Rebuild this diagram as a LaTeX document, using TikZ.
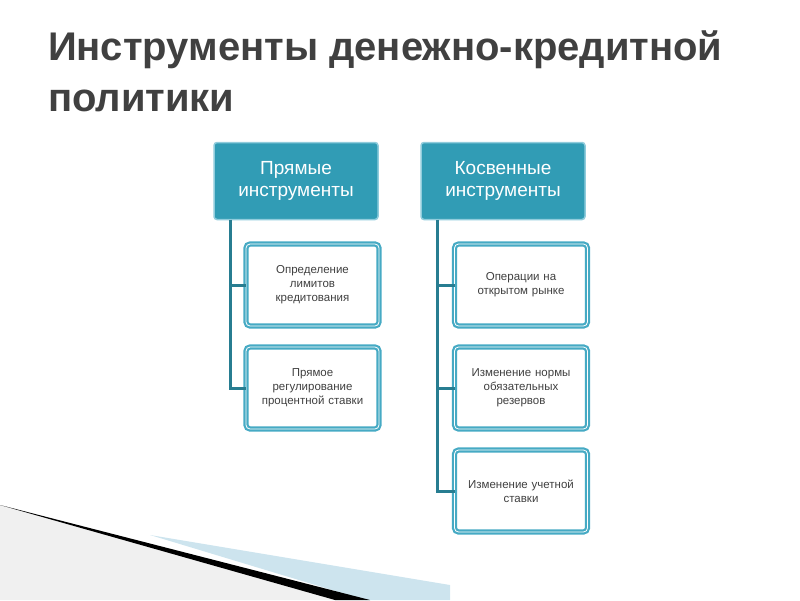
\documentclass[tikz,border=0pt]{standalone}
\usepackage{fontspec}
\setmainfont{Liberation Sans}
\usetikzlibrary{positioning}
\definecolor{headteal}{RGB}{49,156,181}
\definecolor{edgeteal}{RGB}{70,170,196}
\definecolor{titlegray}{RGB}{64,64,64}
\definecolor{wedgeblue}{RGB}{205,228,238}
\tikzset{
    headbox/.style={draw=edgeteal!60, line width=1.5pt, fill=headteal, rounded corners=3pt,
        minimum width=164pt, minimum height=77pt, text width=150pt, align=center,
        text=white, font=\fontsize{19}{22}\selectfont},
    itembox/.style={draw=edgeteal, line width=2.2pt, fill=white, rounded corners=4pt,
        double=white, double distance=0.8pt,
        minimum width=133pt, minimum height=82pt, text width=122pt, align=center,
        text=titlegray, font=\fontsize{11.5}{14}\selectfont},
    stem/.style={draw=headteal!80!black, line width=3pt}
}
\begin{document}
\begin{tikzpicture}[x=1pt,y=-1pt, inner sep=0pt, outer sep=0pt]
    \useasboundingbox (0,0) rectangle (800,600);
    % bottom decoration
    \fill[gray!12] (0,505) -- (360,600) -- (0,600) -- cycle;
    \fill[wedgeblue] (150,535) -- (450,585) -- (450,600) -- (365,600) -- cycle;
    \fill[black] (0,505) -- (370,600) -- (335,600) -- cycle;
    % title
    \node[anchor=north west, text=titlegray, align=left,
        font=\fontsize{40}{51}\selectfont\bfseries] (title) at (48,31)
        {Инструменты денежно-кредитной\\политики};
    % headers
    \node[headbox] (direct) at (296,181) {Прямые\\инструменты};
    \node[headbox] (indirect) at (503,181) {Косвенные\\инструменты};
    % direct branch
    \node[itembox] (limits) at (312.5,285) {Определение\\лимитов\\кредитования};
    \node[itembox, below=21pt of limits] (rate) {Прямое\\регулирование\\процентной ставки};
    % indirect branch
    \node[itembox] (market) at (521,285) {Операции на\\открытом рынке};
    \node[itembox, below=21pt of market] (reserve) {Изменение нормы\\обязательных\\резервов};
    \node[itembox, below=21pt of reserve] (discount) {Изменение учетной\\ставки};
    % connectors
    \coordinate (dstem) at ([xshift=-66pt]direct.south);
    \coordinate (istem) at ([xshift=-66pt]indirect.south);
    \draw[stem] (dstem) |- (rate.west);
    \draw[stem] (dstem |- limits.west) -- (limits.west);
    \draw[stem] (istem) |- (discount.west);
    \draw[stem] (istem |- market.west) -- (market.west);
    \draw[stem] (istem |- reserve.west) -- (reserve.west);
\end{tikzpicture}
\end{document}
